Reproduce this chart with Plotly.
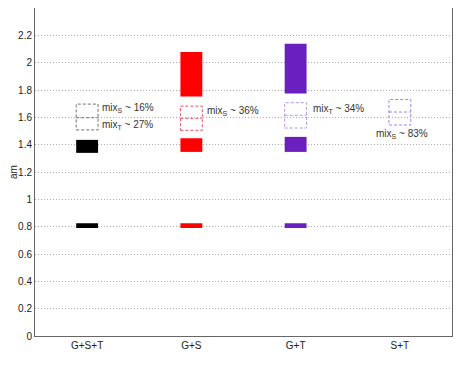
import plotly.graph_objects as go

categories = ["G+S+T", "G+S", "G+T", "S+T"]
cat_pos = [1, 2, 3, 4]

# solid bands: (category index, low, high)
band_cat = [0, 0, 1, 1, 1, 2, 2, 2]
band_low = [0.790, 1.340, 0.790, 1.347, 1.753, 0.790, 1.347, 1.775]
band_high = [0.825, 1.435, 0.825, 1.447, 2.078, 0.825, 1.457, 2.139]
cat_colors = ["#000000", "#ff0000", "#6a1fbf", "#6a1fbf"]

# dashed mixing boxes: bottom, middle, top per category
mix_bottom = [1.508, 1.505, 1.522, 1.544]
mix_middle = [1.597, 1.593, 1.615, 1.639]
mix_top = [1.697, 1.682, 1.707, 1.731]
mix_colors = ["#707070", "#e8506a", "#b096dc", "#9a82ee"]

# labels
label_text = ["mix<sub>S</sub> ~ 16%", "mix<sub>T</sub> ~ 27%", "mix<sub>S</sub> ~ 36%",
              "mix<sub>T</sub> ~ 34%", "mix<sub>S</sub> ~ 83%"]
label_x = [1.125, 1.125, 2.13, 3.15, 4.02]
label_y = [1.665, 1.545, 1.645, 1.66, 1.48]
label_anchor = ["left", "left", "left", "left", "center"]

yticks = [0, 0.2, 0.4, 0.6, 0.8, 1, 1.2, 1.4, 1.6, 1.8, 2, 2.2]
ytick_text = ["0", "0.2", "0.4", "0.6", "0.8", "1", "1.2", "1.4", "1.6", "1.8", "2", "2.2"]

half_w = 0.105

fig = go.Figure()

for c, lo, hi in zip(band_cat, band_low, band_high):
    fig.add_trace(go.Bar(
        x=[cat_pos[c]], y=[hi - lo], base=[lo], width=2 * half_w,
        marker=dict(color=cat_colors[c], line=dict(width=0)),
        showlegend=False, hoverinfo="skip"))

for i in range(len(categories)):
    x0, x1 = cat_pos[i] - half_w, cat_pos[i] + half_w
    b, m, t = mix_bottom[i], mix_middle[i], mix_top[i]
    xs = [x0, x1, x1, x0, x0, None, x0, x1]
    ys = [b, b, t, t, b, None, m, m]
    fig.add_trace(go.Scatter(
        x=xs, y=ys, mode="lines",
        line=dict(color=mix_colors[i], width=1, dash="3px,2px"),
        showlegend=False, hoverinfo="skip"))

for t, x, y, a in zip(label_text, label_x, label_y, label_anchor):
    fig.add_annotation(x=x, y=y, text=t, showarrow=False, xanchor=a, yanchor="middle",
                       font=dict(family="Liberation Sans, Arial", size=10, color="#333333"))

fig.update_layout(
    width=466, height=358,
    margin=dict(l=27, r=22, t=0, b=30),
    paper_bgcolor="white", plot_bgcolor="white",
    barmode="overlay",
    font=dict(family="Liberation Sans, Arial", size=10, color="#222222"),
    xaxis=dict(range=[0.5, 4.5], tickvals=cat_pos, ticktext=categories,
               showgrid=False, zeroline=False, showline=True, linecolor="#666666",
               linewidth=1, mirror=True, ticks="", tickfont=dict(size=10)),
    yaxis=dict(range=[0, 2.4], tickvals=yticks, ticktext=ytick_text,
               showgrid=True, gridcolor="#aaaaaa", griddash="1px,2px", gridwidth=1,
               zeroline=False, showline=True, linecolor="#666666", linewidth=1,
               mirror=True, ticks="", tickfont=dict(size=10),
               title=dict(text="am", font=dict(size=10), standoff=4)),
)

fig.write_html("out.html")
